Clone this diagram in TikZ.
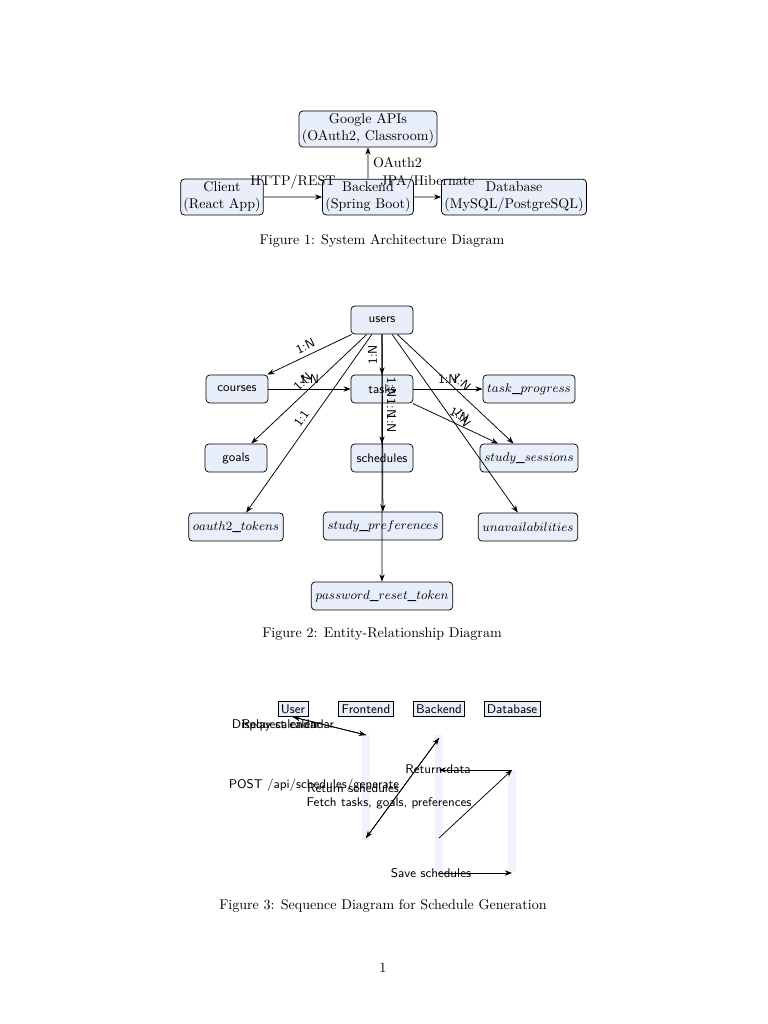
\documentclass[tikz,border=0pt]{standalone}
\usetikzlibrary{arrows.meta}
\definecolor{bx}{RGB}{232,239,250}
\begin{document}
\begin{tikzpicture}[x=0.797pt,y=-0.797pt,>=Stealth,semithick,
 every node/.append style={scale=1.12},
 box/.style={draw,rounded corners=3pt,fill=bx,align=center,inner sep=2pt},
 er/.style={draw,rounded corners=3pt,fill=bx,font=\small\sffamily,minimum height=20pt,minimum width=44pt,inner sep=3pt},
 lab/.style={font=\small\sffamily,sloped},
 hd/.style={draw,fill=bx,font=\small\sffamily,inner sep=2pt},
 life/.style={fill=blue!5,draw=none},
 figcap/.style={font=\normalsize}]
\useasboundingbox (0,0) rectangle (768,1024);
% Figure 1
\node[box] (g) at (368,129) {Google APIs\\(OAuth2, Classroom)};
\node[box] (c) at (222,197) {Client\\(React App)};
\node[box] (b) at (368,197) {Backend\\(Spring Boot)};
\node[box] (d) at (514,197) {Database\\(MySQL/PostgreSQL)};
\draw[->] (c) -- node[above=2pt] {HTTP/REST} (b);
\draw[->] (b) -- node[above=2pt] {JPA/Hibernate} (d);
\draw[->] (b) -- node[right] {OAuth2} (g);
\node[figcap] (cap1) at (382,241) {Figure 1: System Architecture Diagram};
% Figure 2
\node[er] (u) at (382,320) {users};
\node[er] (co) at (237,389) {courses};
\node[er] (t) at (382,389) {tasks};
\node[er] (tp) at (529,389) {$task\_progress$};
\node[er] (go) at (236,458) {goals};
\node[er] (s) at (382,458) {schedules};
\node[er] (ss) at (529,458) {$study\_sessions$};
\node[er] (o) at (236,527) {$oauth2\_tokens$};
\node[er] (sp) at (383,526) {$study\_preferences$};
\node[er] (un) at (528,527) {$unavailabilities$};
\node[er] (pr) at (382,596) {$password\_reset\_token$};
\draw[->] (u) -- node[lab,above] {1:N} (co);
\draw[->] (u) -- node[lab,above] {1:N} (t);
\draw[->] (u) -- node[lab,above] {1:N} (go);
\draw[->] (u) -- node[lab,above] {1:1} (o);
\draw[->] (u) -- node[lab,above] {1:N} (ss);
\draw[->] (u) -- node[lab,above] {1:N} (un);
\draw[->] (u) -- node[lab,above,pos=0.3] {1:N} (sp);
\draw[->] (u) -- node[lab,above,pos=0.3] {1:N} (pr);
\draw[->] (co) -- node[lab,above] {1:N} (t);
\draw[->] (t) -- node[lab,above] {1:N} (tp);
\draw[->] (t) -- node[lab,above] {1:N} (ss);
\draw[->] (t) -- node[lab,above] {1:N} (s);
\node[figcap] (cap2) at (382,634) {Figure 2: Entity-Relationship Diagram};
% Figure 3
\node[hd] (hu) at (293,709) {User};
\node[hd] (hf) at (366,709) {Frontend};
\node[hd] (hb) at (439,709) {Backend};
\node[hd] (hdb) at (512,709) {Database};
\fill[life] (362,735) rectangle (370,840);
\fill[life] (435,735) rectangle (443,872);
\fill[life] (508,770) rectangle (516,872);
\coordinate (u1) at (293,717);
\coordinate (f1) at (366,735);
\coordinate (f2) at (366,838);
\coordinate (b1) at (439,738);
\coordinate (b2) at (439,838);
\coordinate (b3) at (439,770);
\coordinate (b4) at (439,873);
\coordinate (d1) at (512,770);
\coordinate (d2) at (512,873);
\draw[->] (u1) -- (f1);
\draw[->] (f1) -- (u1);
\node[font=\small\sffamily] (l1) at (276,725) {Display calendar};
\node[font=\small\sffamily] (l2) at (288,725) {Request calendar};
\draw[->] (f2) -- (b1);
\draw[->] (b1) -- (f2);
\node[font=\small\sffamily] (l3) at (314,785) {POST /api/schedules/generate};
\node[font=\small\sffamily] (l4) at (353,788) {Return schedules};
\draw[->] (b2) -- (d1);
\node[font=\small\sffamily] (l5) at (389,803) {Fetch tasks, goals, preferences};
\draw[->] (d1) -- (b3);
\node[font=\small\sffamily] (l6) at (438,769) {Return data};
\draw[->] (b4) -- (d2);
\node[font=\small\sffamily] (l7) at (431,873) {Save schedules};
\node[figcap] (cap3) at (383,906) {Figure 3: Sequence Diagram for Schedule Generation};
\node (pn) at (383,968) {1};
\end{tikzpicture}
\end{document}
